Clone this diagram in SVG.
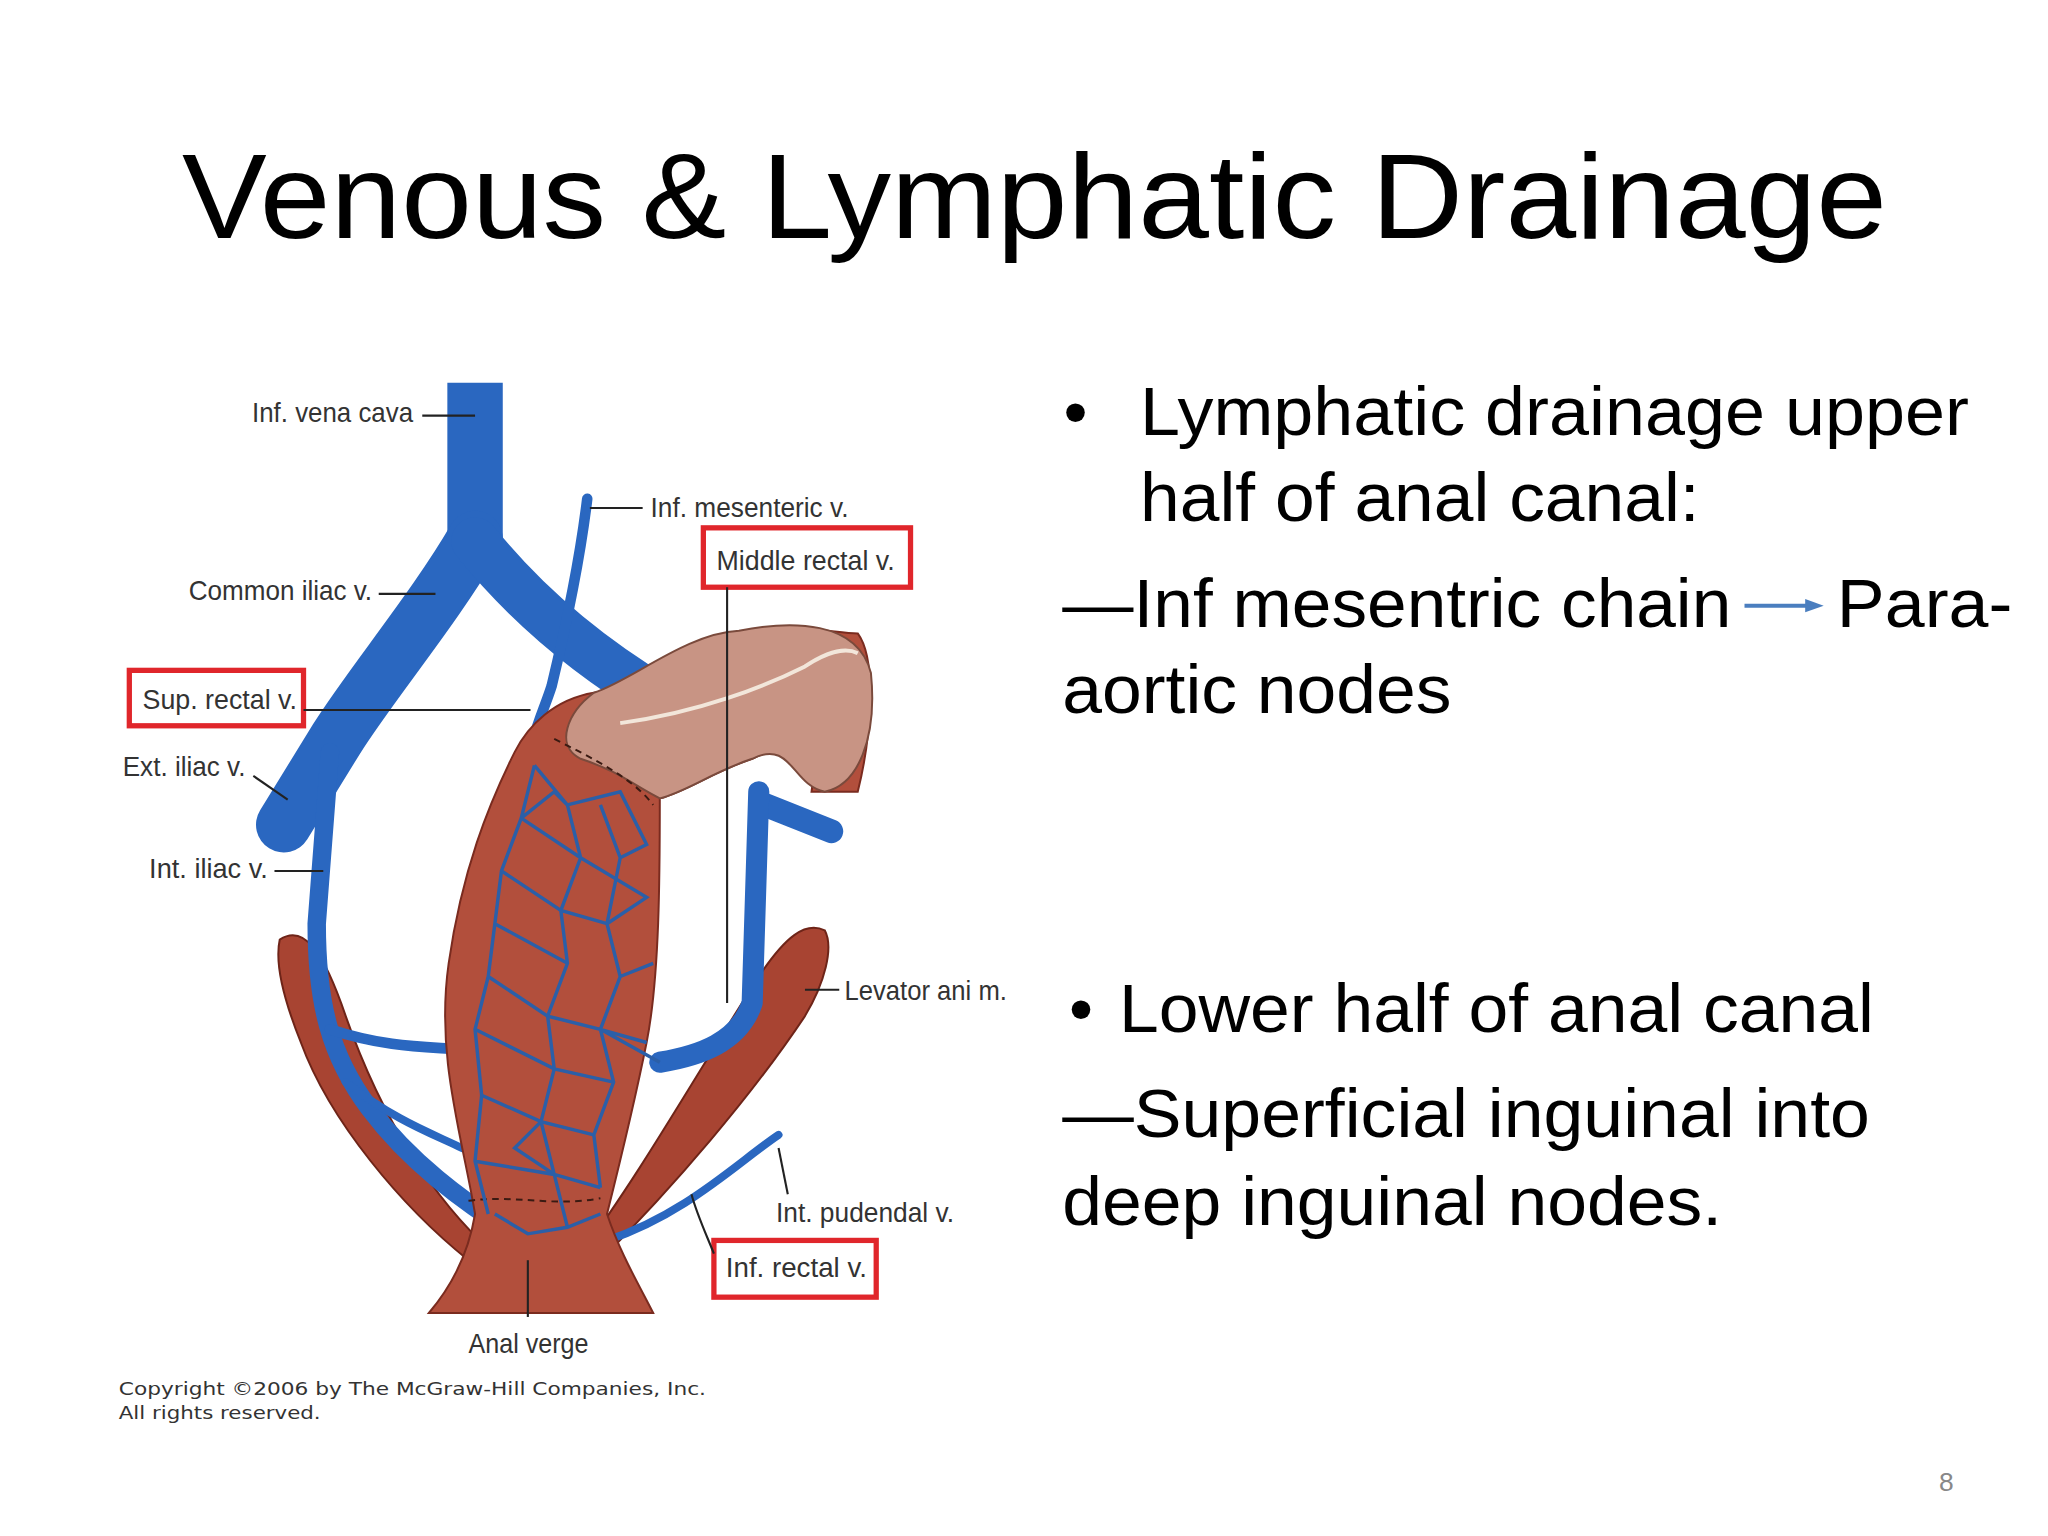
<svg xmlns="http://www.w3.org/2000/svg" width="2048" height="1536" viewBox="0 0 2048 1536">
<style>
.t{font-family:"Liberation Sans",Arial,sans-serif;fill:#000}
.lb{font-family:"Liberation Sans Narrow","Liberation Sans",Arial,sans-serif;font-size:21px;fill:#333}
.ld{stroke:#222;stroke-width:1.6;fill:none}
.box{fill:none;stroke:#e0262b;stroke-width:4}
.vein{fill:none;stroke:#2a67c0;stroke-linecap:round;stroke-linejoin:round}
.net{fill:none;stroke:#2b5fa8;stroke-width:2.6}
.mus{fill:#a84432;stroke:#6e2418;stroke-width:1.5}
</style>
<rect width="2048" height="1536" fill="#fff"/>
<g transform="scale(1.3196)">
<g id="title"><text class="t" x="138" y="180" font-size="92" textLength="1292" lengthAdjust="spacingAndGlyphs">Venous &amp; Lymphatic Drainage</text></g>

<g id="anatomy">
 <path class="mus" d="M212,712 C230,700 245,720 262,770 C290,850 330,910 372,948 L355,955 C305,915 250,850 228,790 C216,760 208,730 212,712Z"/>
 <path class="mus" d="M625,705 C610,698 595,710 575,740 C530,810 485,890 440,950 L455,955 C510,900 570,830 610,770 C625,745 632,718 625,705Z"/>
 <path class="vein" stroke-width="42" style="stroke-linecap:butt" d="M360,290 L360,410"/>
 <path class="vein" stroke-width="42" d="M360,408 C330,460 280,520 255,560 L215,625"/>
 <path class="vein" stroke-width="36" d="M360,410 C400,460 450,500 500,530"/>
 <path class="vein" stroke-width="18" d="M580,610 L630,630"/>
 <path class="vein" stroke-width="16" d="M575,600 L570,760 C560,790 530,800 500,805"/>
 <path class="vein" stroke-width="14" d="M250,570 L240,700 C240,760 250,800 280,840 C310,880 350,910 390,935"/>
 <path class="vein" stroke-width="8" d="M250,780 C310,800 350,790 370,800"/>
 <path class="vein" stroke-width="6" d="M262,820 C300,850 330,860 350,870"/>
 <path class="vein" stroke-width="6" d="M460,940 C520,920 560,880 590,860"/>
 <path class="vein" stroke-width="8" d="M445,378 C440,420 430,470 418,520 C410,545 400,560 405,580"/>
 <path d="M390,570 C400,550 420,530 450,525 C480,520 495,530 510,520 C515,500 540,485 570,485 C600,470 630,480 650,480 C665,500 660,560 650,600 L615,600 C620,570 600,560 570,575 C540,585 520,600 500,605 C500,660 500,740 490,790 C480,840 470,880 460,920 C470,950 485,975 495,995 L325,995 C342,975 355,950 360,920 C350,860 330,800 340,730 C350,660 370,610 390,570Z" fill="#b24f3c" stroke="#7a2b1f" stroke-width="1.5"/>
 <path d="M450,525 C480,515 520,480 560,478 C600,470 650,470 660,510 C665,560 650,595 625,600 C600,595 600,560 570,575 C540,585 520,600 500,605 C480,595 470,585 440,575 C420,565 430,540 450,525Z" fill="#c89484" stroke="#7a4a3c" stroke-width="1.5"/>
 <path d="M470,548 C530,540 580,520 610,505 C625,495 640,490 650,495" fill="none" stroke="#f2e6da" stroke-width="3"/>
 <path d="M420,560 C450,575 480,590 495,610" fill="none" stroke="#3a1a12" stroke-width="1.5" stroke-dasharray="5,4"/>
 <path d="M355,910 C390,905 420,915 455,908" fill="none" stroke="#3a1a12" stroke-width="1.5" stroke-dasharray="5,4"/>
 <path class="net" d="M405,580 L395,620 L380,660 L375,700 L370,740 L360,780 L365,830 L360,880 L370,920 M405,580 L430,610 L440,650 L425,690 L430,730 L415,770 L420,810 L410,850 L420,890 L430,930 M455,610 L470,650 L460,700 L470,740 L455,780 L465,820 L450,860 L455,900 M395,620 L440,650 M380,660 L425,690 L460,700 M375,700 L430,730 M370,740 L415,770 L455,780 L490,790 M360,780 L420,810 L465,820 M365,830 L410,850 L450,860 M360,880 L420,890 L455,900 M430,610 L470,600 L490,640 L470,650 M440,650 L490,680 L460,700 M470,740 L495,730 M455,780 L500,805 M410,850 L390,870 L420,890 M395,620 L420,600 L430,610"/>
 <path class="net" d="M375,920 L400,935 L430,930 L455,920"/>
</g>

<g id="labels">
 <text class="lb" x="191" y="320" textLength="122" lengthAdjust="spacingAndGlyphs">Inf. vena cava</text>
 <path class="ld" d="M320,315 L360,315"/>
 <text class="lb" x="493" y="392" textLength="150" lengthAdjust="spacingAndGlyphs">Inf. mesenteric v.</text>
 <path class="ld" d="M447,385 L487,385"/>
 <rect class="box" x="533" y="400" width="157" height="45"/>
 <text class="lb" x="543" y="432" textLength="135" lengthAdjust="spacingAndGlyphs">Middle rectal v.</text>
 <path class="ld" d="M551,445 L551,760"/>
 <text class="lb" x="143" y="455" textLength="139" lengthAdjust="spacingAndGlyphs">Common iliac v.</text>
 <path class="ld" d="M287,450 L330,450"/>
 <rect class="box" x="98" y="508" width="132" height="42"/>
 <text class="lb" x="108" y="537" textLength="117" lengthAdjust="spacingAndGlyphs">Sup. rectal v.</text>
 <path class="ld" d="M230,538 L402,538"/>
 <text class="lb" x="93" y="588" textLength="93" lengthAdjust="spacingAndGlyphs">Ext. iliac v.</text>
 <path class="ld" d="M192,588 L218,606"/>
 <text class="lb" x="113" y="665" textLength="90" lengthAdjust="spacingAndGlyphs">Int. iliac v.</text>
 <path class="ld" d="M208,660 L245,660"/>
 <text class="lb" x="640" y="758" textLength="123" lengthAdjust="spacingAndGlyphs">Levator ani m.</text>
 <path class="ld" d="M610,750 L636,750"/>
 <text class="lb" x="588" y="926" textLength="135" lengthAdjust="spacingAndGlyphs">Int. pudendal v.</text>
 <path class="ld" d="M590,870 L597,905"/>
 <rect class="box" x="541" y="940" width="123" height="43"/>
 <text class="lb" x="550" y="968" textLength="107" lengthAdjust="spacingAndGlyphs">Inf. rectal v.</text>
 <path class="ld" d="M541,950 C535,935 528,920 524,905"/>
 <text class="lb" x="355" y="1025" textLength="91" lengthAdjust="spacingAndGlyphs">Anal verge</text>
 <path class="ld" d="M400,955 L400,998"/>
 <text x="90" y="1057" font-family="DejaVu Sans,sans-serif" font-size="14" fill="#333" textLength="445" lengthAdjust="spacingAndGlyphs">Copyright ©2006 by The McGraw-Hill Companies, Inc.</text>
 <text x="90" y="1075" font-family="DejaVu Sans,sans-serif" font-size="14" fill="#333" textLength="153" lengthAdjust="spacingAndGlyphs">All rights reserved.</text>
</g>

<g id="bullets" font-size="52">
 <text class="t" x="806" y="330">•</text>
 <text class="t" x="864" y="330" textLength="628" lengthAdjust="spacingAndGlyphs">Lymphatic drainage upper</text>
 <text class="t" x="864" y="395" textLength="424" lengthAdjust="spacingAndGlyphs">half of anal canal:</text>
 <text class="t" x="805" y="475" textLength="507" lengthAdjust="spacingAndGlyphs">—Inf mesentric chain</text>
 <text class="t" x="1392" y="475" textLength="133" lengthAdjust="spacingAndGlyphs">Para-</text>
 <text class="t" x="805" y="540" textLength="295" lengthAdjust="spacingAndGlyphs">aortic nodes</text>
 <text class="t" x="810" y="782">•</text>
 <text class="t" x="848" y="782" textLength="572" lengthAdjust="spacingAndGlyphs">Lower half of anal canal</text>
 <text class="t" x="805" y="862" textLength="612" lengthAdjust="spacingAndGlyphs">—Superficial inguinal into</text>
 <text class="t" x="805" y="928" textLength="500" lengthAdjust="spacingAndGlyphs">deep inguinal nodes.</text>
</g>
<g id="connectors">
 <path d="M1322,459 L1372,459" stroke="#4a7ebf" stroke-width="3"/>
 <path d="M1368,454 L1382,459 L1368,464Z" fill="#4a7ebf"/>
</g>
<text x="1475" y="1130" font-family="Liberation Sans,Arial,sans-serif" font-size="20" fill="#888" text-anchor="middle">8</text>
</g>
</svg>
